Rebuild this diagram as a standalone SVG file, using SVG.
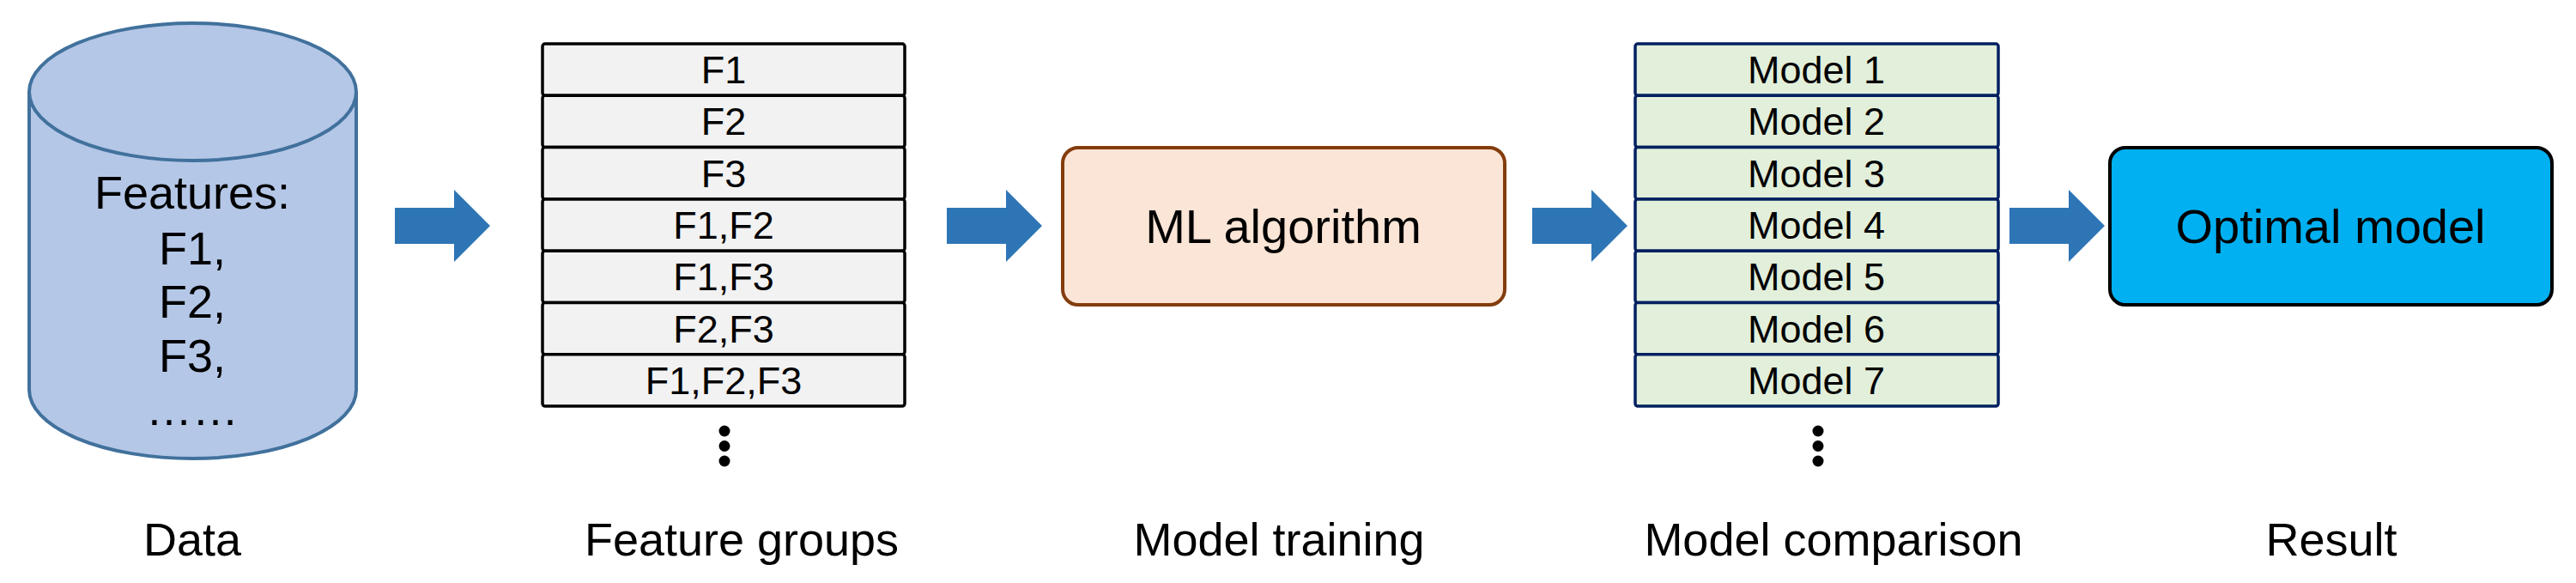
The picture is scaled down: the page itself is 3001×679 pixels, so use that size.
<svg xmlns="http://www.w3.org/2000/svg" width="3001" height="679" viewBox="0 0 3001 679">
<style>
text{font-family:"Liberation Sans",Arial,sans-serif;fill:#000;text-anchor:middle}
.lbl{font-size:54px}
.cyl{font-size:54px}
.row{font-size:45px}
.box{font-size:56px}
.arrow{fill:#2E75B6}
.fg rect.cell{fill:#F2F2F2;stroke:#000;stroke-width:3.5}
.mc rect.cell{fill:#E2EFDA;stroke:#002060;stroke-width:3.5}
</style>
<defs>
<path id="arr" d="M0,-21 H69 V-42 L111,0 L69,42 V21 H0 Z"/>
</defs>
<rect width="3001" height="679" fill="#fff"/>

<g id="data">
<path d="M34,107 A190.5,80 0 0,1 415,107 L415,454 A190.5,80 0 0,1 34,454 Z" fill="#B4C7E7" stroke="#41719C" stroke-width="4"/>
<path d="M34,107 A190.5,80 0 0,0 415,107" fill="none" stroke="#41719C" stroke-width="4"/>
<text class="cyl" x="224" y="243">Features:</text>
<text class="cyl" x="224" y="308">F1,</text>
<text class="cyl" x="224" y="370">F2,</text>
<text class="cyl" x="224" y="433">F3,</text>
<text class="cyl" x="224" y="495">……</text>
<text class="lbl" x="224" y="647">Data</text>
</g>

<g id="feature-groups" class="fg">
<rect class="cell" x="632" y="51" width="422" height="60.3" rx="3"/>
<rect class="cell" x="632" y="111.3" width="422" height="60.3" rx="3"/>
<rect class="cell" x="632" y="171.6" width="422" height="60.3" rx="3"/>
<rect class="cell" x="632" y="231.9" width="422" height="60.3" rx="3"/>
<rect class="cell" x="632" y="292.2" width="422" height="60.3" rx="3"/>
<rect class="cell" x="632" y="352.5" width="422" height="60.3" rx="3"/>
<rect class="cell" x="632" y="412.8" width="422" height="60.3" rx="3"/>
<text class="row" x="843" y="97">F1</text>
<text class="row" x="843" y="157.3">F2</text>
<text class="row" x="843" y="217.6">F3</text>
<text class="row" x="843" y="277.9">F1,F2</text>
<text class="row" x="843" y="338.2">F1,F3</text>
<text class="row" x="843" y="398.5">F2,F3</text>
<text class="row" x="843" y="458.8">F1,F2,F3</text>
<circle cx="844" cy="502" r="6.5"/>
<circle cx="844" cy="519.5" r="6.5"/>
<circle cx="844" cy="537" r="6.5"/>
<text class="lbl" x="864" y="647">Feature groups</text>
</g>

<g id="model-training">
<rect x="1238" y="172" width="515" height="183" rx="18" fill="#FBE5D6" stroke="#843C0C" stroke-width="4"/>
<text class="box" x="1495" y="283">ML algorithm</text>
<text class="lbl" x="1490" y="647">Model training</text>
</g>

<g id="model-comparison" class="mc">
<rect class="cell" x="1905" y="51" width="423" height="60.3" rx="3"/>
<rect class="cell" x="1905" y="111.3" width="423" height="60.3" rx="3"/>
<rect class="cell" x="1905" y="171.6" width="423" height="60.3" rx="3"/>
<rect class="cell" x="1905" y="231.9" width="423" height="60.3" rx="3"/>
<rect class="cell" x="1905" y="292.2" width="423" height="60.3" rx="3"/>
<rect class="cell" x="1905" y="352.5" width="423" height="60.3" rx="3"/>
<rect class="cell" x="1905" y="412.8" width="423" height="60.3" rx="3"/>
<text class="row" x="2116" y="97">Model 1</text>
<text class="row" x="2116" y="157.3">Model 2</text>
<text class="row" x="2116" y="217.6">Model 3</text>
<text class="row" x="2116" y="277.9">Model 4</text>
<text class="row" x="2116" y="338.2">Model 5</text>
<text class="row" x="2116" y="398.5">Model 6</text>
<text class="row" x="2116" y="458.8">Model 7</text>
<circle cx="2118" cy="502" r="6.5"/>
<circle cx="2118" cy="519.5" r="6.5"/>
<circle cx="2118" cy="537" r="6.5"/>
<text class="lbl" x="2136" y="647">Model comparison</text>
</g>

<g id="result">
<rect x="2458" y="172" width="515" height="183" rx="18" fill="#00B0F0" stroke="#000" stroke-width="4"/>
<text class="box" x="2715" y="283">Optimal model</text>
<text class="lbl" x="2716" y="647">Result</text>
</g>

<g id="connectors">
<use href="#arr" class="arrow" transform="translate(460,263)"/>
<use href="#arr" class="arrow" transform="translate(1103,263)"/>
<use href="#arr" class="arrow" transform="translate(1785,263)"/>
<use href="#arr" class="arrow" transform="translate(2341,263)"/>
</g>
</svg>
